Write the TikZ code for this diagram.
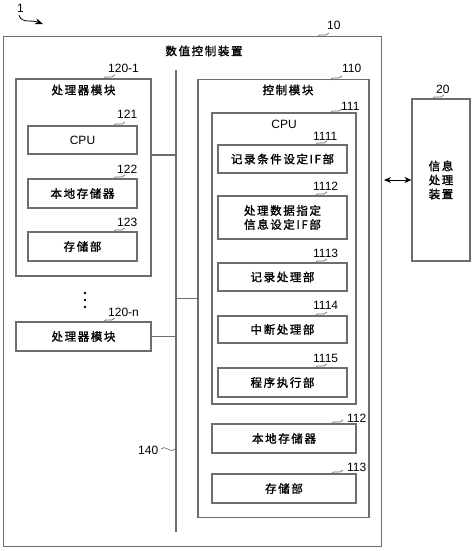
\documentclass[tikz,border=0pt]{standalone}
\usepackage{fontspec}
\setmainfont{Liberation Sans}
\newfontfamily\cjk[LetterSpace=14, FakeBold=1.5]{Noto Sans CJK SC}
\usetikzlibrary{arrows.meta}
\definecolor{linegray}{HTML}{6E6E6E}
\tikzset{
  box/.style={draw=linegray, line width=1.2pt, fill=white, inner sep=0pt},
  cj/.style={font=\cjk\fontsize{11.5}{14}\selectfont, inner sep=0pt},
  num/.style={font=\fontsize{12}{14}\selectfont, inner sep=0pt, anchor=base west},
  sq/.style={draw=linegray, line width=0.7pt},
  bus/.style={draw=linegray, line width=1.2pt},
  squig/.pic={\draw[sq] (0,0) .. controls (3,-5) and (8,1) .. (12,-4);}
}
\begin{document}
\begin{tikzpicture}[x=1pt,y=-1pt]
\useasboundingbox (0,0) rectangle (474,551);
\fill[white] (0,0) rectangle (474,551);

% system label 1
\node[num] (l1) at (17,13) {1};
\coordinate (a1s) at (19,15);
\coordinate (a1e) at (43,24);
\draw[black, line width=0.8pt, -{Stealth[length=8pt,width=6pt]}] (a1s) to[out=-80,in=180] (28,21) to[out=0,in=160] (a1e);

% outer device 10
\node[box, minimum width=378pt, minimum height=510pt] (n10) at (192.6,291.8) {};
\node[cj] (t10) at (204,51) {数值控制装置};
\pic at (317,37) {squig};
\node[num] (l10) at (327,30) {10};

% bus 140
\coordinate (bt) at (176,70);
\coordinate (bb) at (176,532);
\draw[bus] (bt) -- (bb);
\draw[sq] (161,449) .. controls (165,444) and (170,454) .. (175,449);
\node[num] (l140) at (138,454) {140};

% processor module 120-1
\node[box, minimum width=135pt, minimum height=197pt] (p1) at (83.5,177.5) {};
\node[cj] (tp1) at (83.5,90) {处理器模块};
\pic at (103,79) {squig};
\node[num] (lp1) at (108,73) {120-1};

\node[box, minimum width=109pt, minimum height=28pt, font=\fontsize{12}{14}\selectfont] (c121) at (82.5,140) {CPU};
\pic at (113,126) {squig};
\node[num] (l121) at (117,118) {121};

\node[box, cj, minimum width=109pt, minimum height=29pt] (c122) at (82.5,193.5) {本地存储器};
\pic at (113,179) {squig};
\node[num] (l122) at (117,173) {122};

\node[box, cj, minimum width=109pt, minimum height=29pt] (c123) at (82.5,246.5) {存储部};
\pic at (113,232) {squig};
\node[num] (l123) at (117,226) {123};

% dots
\fill[black] (85,293) circle (1.4pt);
\fill[black] (85,300) circle (1.4pt);
\fill[black] (85,307) circle (1.4pt);

% processor module 120-n
\node[box, cj, minimum width=135pt, minimum height=29pt] (pn) at (83.5,336.5) {处理器模块};
\pic at (103,322) {squig};
\node[num] (lpn) at (108,316) {120-n};

% control module 110
\node[box, minimum width=171pt, minimum height=438pt] (m110) at (283.5,298.8) {};
\node[cj] (tm110) at (288,90) {控制模块};
\pic at (330,80) {squig};
\node[num] (l110) at (342,73) {110};

% CPU 111
\node[box, minimum width=144pt, minimum height=291pt] (c111) at (284,258.5) {};
\node[font=\fontsize{12}{14}\selectfont, inner sep=0pt] (tc111) at (284,124) {CPU};
\pic at (330,113) {squig};
\node[num] (l111) at (341,110) {111};

\node[box, cj, minimum width=129pt, minimum height=28pt] (u1111) at (282.5,159) {记录条件设定IF部};
\pic at (315,145) {squig};
\node[num] (l1111) at (313,140) {1111};

\node[box, cj, minimum width=129pt, minimum height=43pt, align=center] (u1112) at (282.5,217.5) {处理数据指定\\信息设定IF部};
\pic at (315,196) {squig};
\node[num] (l1112) at (313,190) {1112};

\node[box, cj, minimum width=129pt, minimum height=28pt] (u1113) at (282.5,277) {记录处理部};
\pic at (315,263) {squig};
\node[num] (l1113) at (313,257) {1113};

\node[box, cj, minimum width=129pt, minimum height=27pt] (u1114) at (282.5,329.5) {中断处理部};
\pic at (315,316) {squig};
\node[num] (l1114) at (313,309) {1114};

\node[box, cj, minimum width=129pt, minimum height=29pt] (u1115) at (282.5,382.5) {程序执行部};
\pic at (315,368) {squig};
\node[num] (l1115) at (313,362) {1115};

% 112, 113
\node[box, cj, minimum width=144pt, minimum height=29pt] (c112) at (284,438.5) {本地存储器};
\pic at (331,424) {squig};
\node[num] (l112) at (347,422) {112};

\node[box, cj, minimum width=144pt, minimum height=29pt] (c113) at (284,488.5) {存储部};
\pic at (331,474) {squig};
\node[num] (l113) at (347,471) {113};

% info processing device 20
\node[box, cj, minimum width=58pt, minimum height=162pt, align=center] (n20) at (441,180) {信息\\处理\\装置};
\pic at (432,99) {squig};
\node[num] (l20) at (436,93) {20};

% bus connections
\coordinate (y155) at (0,155);
\draw[bus] (p1.east |- y155) -- (bt |- y155);
\draw[bus] (m110.west) -- (bt |- m110.west);
\draw[bus] (pn.east) -- (bt |- pn.east);

% double arrow
\coordinate (arL) at (384,180);
\draw[black, line width=1pt, {Stealth[length=7pt,width=6pt]}-{Stealth[length=7pt,width=6pt]}] (arL) -- (n20.west);
\end{tikzpicture}
\end{document}
